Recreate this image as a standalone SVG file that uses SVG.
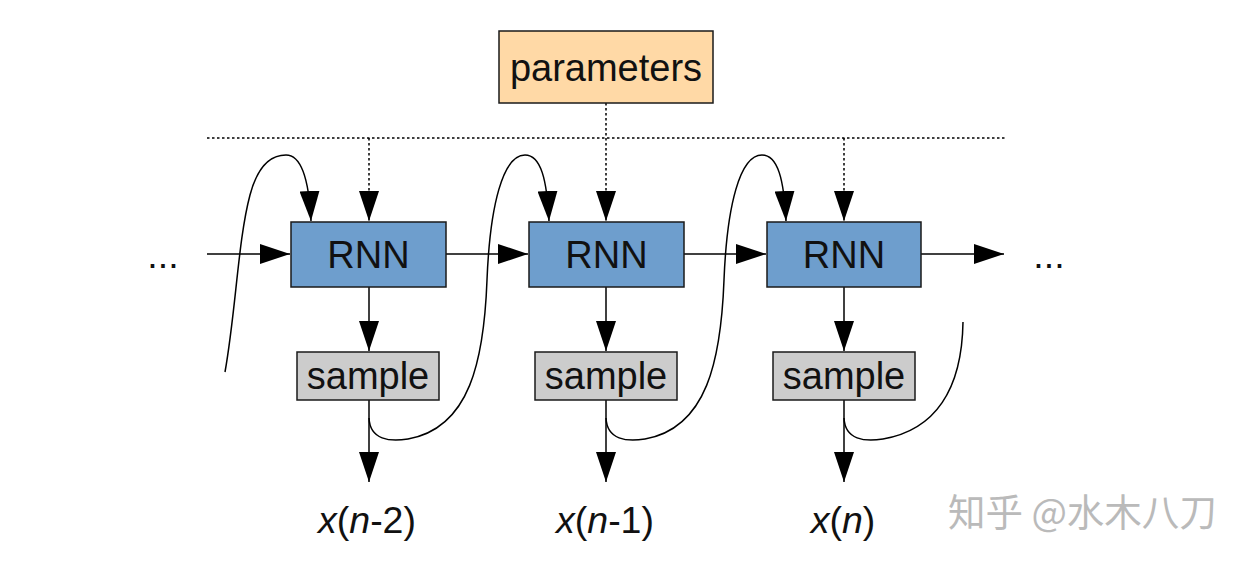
<svg xmlns="http://www.w3.org/2000/svg" width="1248" height="564" viewBox="0 0 1248 564">
<defs>
<marker id="ah" markerUnits="userSpaceOnUse" markerWidth="30" markerHeight="20" refX="30" refY="10" orient="auto">
<path d="M0,0 L30,10 L0,20 z" fill="#000"/>
</marker>
<style>
.box{stroke:#1a1a1a;stroke-width:1.5}
.rnn{fill:#6e9ecd}
.smp{fill:#cccccc}
.par{fill:#ffd9a6}
.t{font-family:"Liberation Sans",Arial,sans-serif;font-size:38px;fill:#111;text-anchor:middle}
.ln{fill:none;stroke:#000;stroke-width:1.5}
.dot{fill:none;stroke:#000;stroke-width:1.5;stroke-dasharray:2.5,2.5}
.lab{font-family:"Liberation Sans",Arial,sans-serif;font-size:37.5px;fill:#111;text-anchor:middle}
.wm{font-family:"Noto Sans CJK SC","Liberation Sans",sans-serif;font-size:37.5px;fill:#bababa}
</style>
</defs>
<rect width="1248" height="564" fill="#fff"/>
<g id="connectors">
<line class="dot" x1="207" y1="138" x2="1005" y2="138"/>
<line class="dot" x1="606" y1="103" x2="606" y2="221" marker-end="url(#ah)"/>
<line class="dot" x1="369" y1="138" x2="369" y2="221" marker-end="url(#ah)"/>
<line class="dot" x1="844" y1="138" x2="844" y2="221" marker-end="url(#ah)"/>
<line class="ln" x1="207" y1="254" x2="290" y2="254" marker-end="url(#ah)"/>
<line class="ln" x1="446" y1="254" x2="528" y2="254" marker-end="url(#ah)"/>
<line class="ln" x1="684" y1="254" x2="766" y2="254" marker-end="url(#ah)"/>
<line class="ln" x1="921" y1="254" x2="1004" y2="254" marker-end="url(#ah)"/>
<line class="ln" x1="369" y1="287" x2="369" y2="351" marker-end="url(#ah)"/>
<line class="ln" x1="606" y1="287" x2="606" y2="351" marker-end="url(#ah)"/>
<line class="ln" x1="844" y1="287" x2="844" y2="351" marker-end="url(#ah)"/>
<line class="ln" x1="369" y1="400" x2="369" y2="482" marker-end="url(#ah)"/>
<line class="ln" x1="606" y1="400" x2="606" y2="482" marker-end="url(#ah)"/>
<line class="ln" x1="844" y1="400" x2="844" y2="482" marker-end="url(#ah)"/>
<path class="ln" d="M225,372 C236,310 238,240 250,195 C258,165 272,155 286,155 C302,155 309,180 311,221" marker-end="url(#ah)"/>
<path class="ln" d="M369,418 C370,440 390,442 408,439 C470,428 484,360 487,280 C490,205 503,155 525,155 C541,155 547,180 549,221" marker-end="url(#ah)"/>
<path class="ln" d="M606,418 C607,440 627,442 645,439 C707,428 721,360 724,280 C727,205 740,155 762,155 C778,155 784,180 786,221" marker-end="url(#ah)"/>
<path class="ln" d="M844,418 C845,440 865,442 883,439 C935,430 962,390 963,322"/>
</g>
<g id="parameters">
<rect class="box par" x="499" y="31" width="214" height="72"/>
<text class="t" x="606" y="81">parameters</text>
</g>
<g id="rnn1"><rect class="box rnn" x="291" y="222" width="155" height="65"/><text class="t" x="368.5" y="268">RNN</text></g>
<g id="rnn2"><rect class="box rnn" x="529" y="222" width="155" height="65"/><text class="t" x="606.5" y="268">RNN</text></g>
<g id="rnn3"><rect class="box rnn" x="767" y="222" width="154" height="65"/><text class="t" x="844" y="268">RNN</text></g>
<g id="sample1"><rect class="box smp" x="297" y="352" width="142" height="48"/><text class="t" x="368" y="389">sample</text></g>
<g id="sample2"><rect class="box smp" x="535" y="352" width="142" height="48"/><text class="t" x="606" y="389">sample</text></g>
<g id="sample3"><rect class="box smp" x="773" y="352" width="142" height="48"/><text class="t" x="844" y="389">sample</text></g>
<g id="labels">
<text class="lab" x="163" y="268">...</text>
<text class="lab" x="1049" y="268">...</text>
<text class="lab" x="367" y="533"><tspan font-style="italic">x</tspan>(<tspan font-style="italic">n</tspan>-2)</text>
<text class="lab" x="605" y="533"><tspan font-style="italic">x</tspan>(<tspan font-style="italic">n</tspan>-1)</text>
<text class="lab" x="843" y="533"><tspan font-style="italic">x</tspan>(<tspan font-style="italic">n</tspan>)</text>
<text class="wm" x="948" y="526">知乎 @水木八刀</text>
</g>
</svg>
